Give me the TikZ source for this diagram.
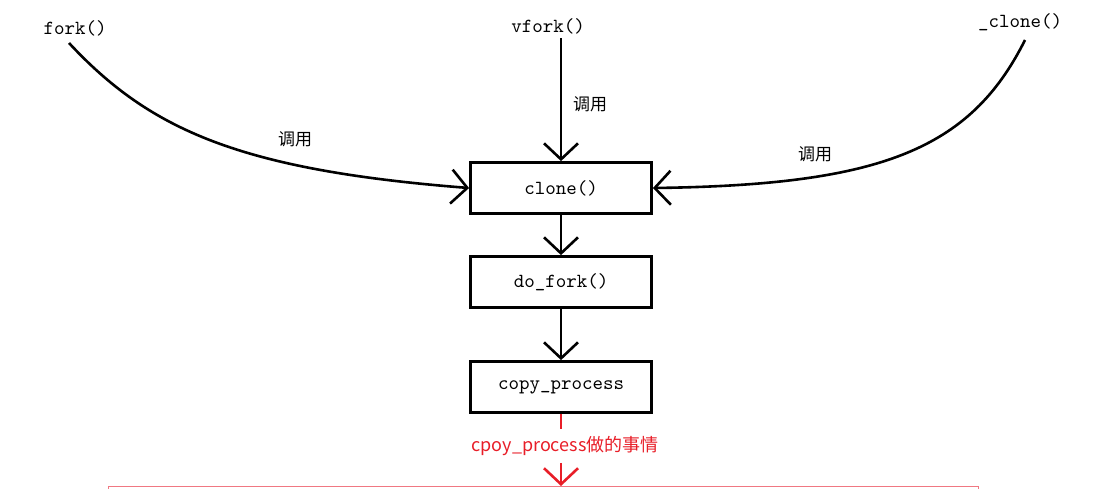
\documentclass[tikz,border=0pt]{standalone}
\usepackage{fontspec}
\newfontfamily\cjk{Noto Sans CJK SC}
\usepackage{tikz}
\usetikzlibrary{positioning}
\usetikzlibrary{arrows.meta}
\usepackage{xcolor}

\definecolor{redpen}{RGB}{232,30,40}
\definecolor{pinkline}{RGB}{240,120,130}

\tikzset{
  fname/.style={font=\fontsize{10}{12}\selectfont\ttfamily},
  calltag/.style={font=\fontsize{8.5}{10}\selectfont\cjk},
  funcbox/.style={draw, line width=1.4pt, minimum width=90.5pt, minimum height=25.5pt, inner sep=0pt, font=\fontsize{10}{12}\selectfont\ttfamily},
  callarrow/.style={line width=1.3pt, -{Straight Barb[length=8pt,width=17pt,line width=1.3pt]}},
  redarrow/.style={redpen, line width=1.3pt, -{Straight Barb[length=8pt,width=17pt,line width=1.3pt]}},
}

\begin{document}
\begin{tikzpicture}[x=0.5pt,y=-0.5pt]

\useasboundingbox (0,0) rectangle (1107,488);

\node[fname] (fork) at (75,28) {fork()};
\node[fname] (vfork) at (548,26) {vfork()};
\node[fname] (uclone) at (1020,22) {\_clone()};

\coordinate (forkout) at (69,43);
\coordinate (vforkout) at (561,38);
\coordinate (ucloneout) at (1025,40);

\node[funcbox] (clone) at (561,188) {clone()};
\node[funcbox] (dofork) at (561,282) {do\_fork()};
\node[funcbox] (copy) at (561,387) {copy\_process};

\node[calltag] (tagfork) at (295,139) {调用};
\node[calltag] (tagvfork) at (590,104) {调用};
\node[calltag] (tagclone) at (815,154) {调用};

\draw[callarrow] (forkout) .. controls (150,130) and (240,170) .. (clone.west);
\draw[callarrow] (vforkout) -- (clone.north);
\draw[callarrow] (ucloneout) .. controls (970,150) and (880,185) .. (clone.east);

\draw[callarrow] (clone.south) -- (dofork.north);
\draw[callarrow] (dofork.south) -- (copy.north);

% what copy_process does
\node[redpen, font=\fontsize{9}{11}\selectfont\cjk] (todo) at (565,446) {cpoy\_process做的事情};
\node[draw=pinkline, line width=0.6pt, minimum width=435pt, minimum height=30pt, anchor=north west] (things) at (108,486) {};

\draw[redpen, line width=1.3pt] (copy.south) -- (copy.south |- todo.north);
\draw[redarrow] (copy.south |- todo.south) -- (copy.south |- things.north);

\end{tikzpicture}
\end{document}
